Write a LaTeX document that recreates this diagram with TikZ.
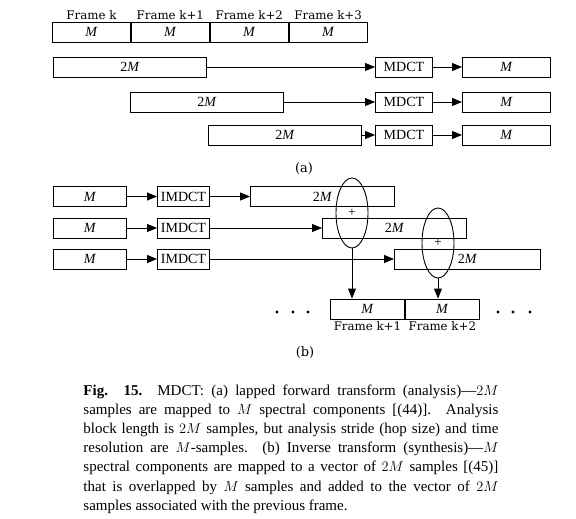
\documentclass[tikz,border=0pt]{standalone}
\usepackage{fontspec}
\setmainfont{Liberation Serif}
\newfontfamily\framefont{DejaVu Serif}
\usetikzlibrary{arrows.meta, shapes.geometric, calc}

\begin{document}
\begin{tikzpicture}[x=1pt, y=-1pt, line width=0.9pt,
	box/.style={draw, minimum height=20, inner sep=0, anchor=west, font=\fontsize{14}{14}\selectfont},
	sum/.style={draw, ellipse, minimum width=32, minimum height=70, inner sep=0, font=\fontsize{13}{13}\selectfont},
	arr/.style={-{Triangle[length=10pt, width=8pt]}},
	frm/.style={font=\framefont\fontsize{11.8}{12}\selectfont, inner sep=1.5pt},
	lbl/.style={font=\framefont\fontsize{13}{13}\selectfont}]
	\useasboundingbox (0,0) rectangle (576,519);
	\node[box, minimum width=78] (fa) at (52,32) {\textit{M}};
	\node[box, minimum width=78] (fb) at (fa.east) {\textit{M}};
	\node[box, minimum width=78] (fc) at (fb.east) {\textit{M}};
	\node[box, minimum width=78] (fd) at (fc.east) {\textit{M}};
	\node at (fa.north) [above, frm] {Frame k};
	\node at (fb.north) [above, frm] {Frame k+1};
	\node at (fc.north) [above, frm] {Frame k+2};
	\node at (fd.north) [above, frm] {Frame k+3};

	\node[box, minimum width=153] (wa) at (53,67) {2\textit{M}};
	\node[box, minimum width=153] (wb) at (130,102) {2\textit{M}};
	\node[box, minimum width=153] (wc) at (208,135) {2\textit{M}};
	\node[box, minimum width=57] (ma) at (375,67) {MDCT};
	\node[box, minimum width=57] (mb) at (375,102) {MDCT};
	\node[box, minimum width=57] (mc) at (375,135) {MDCT};
	\node[box, minimum width=88] (ca) at (462,67) {\textit{M}};
	\node[box, minimum width=88] (cb) at (462,102) {\textit{M}};
	\node[box, minimum width=88] (cc) at (462,135) {\textit{M}};
	\draw[arr] (wa) -- (ma);
	\draw[arr] (wb) -- (mb);
	\draw[arr] (wc) -- (mc);
	\draw[arr] (ma) -- (ca);
	\draw[arr] (mb) -- (cb);
	\draw[arr] (mc) -- (cc);
	\node[lbl] (capa) at (304,169) {(a)};

	\node[box, minimum width=73] (ia) at (53,196.5) {\textit{M}};
	\node[box, minimum width=73] (ib) at (53,228) {\textit{M}};
	\node[box, minimum width=73] (ic) at (53,259) {\textit{M}};
	\node[box, minimum width=52] (ta) at (157,196.5) {IMDCT};
	\node[box, minimum width=52] (tb) at (157,228) {IMDCT};
	\node[box, minimum width=52] (tc) at (157,259) {IMDCT};
	\node[box, minimum width=144] (va) at (250,196.5) {2\textit{M}};
	\node[box, minimum width=144] (vb) at (322,228) {2\textit{M}};
	\node[box, minimum width=146] (vc) at (394,259) {2\textit{M}};
	\draw[arr] (ia) -- (ta);
	\draw[arr] (ib) -- (tb);
	\draw[arr] (ic) -- (tc);
	\draw[arr] (ta) -- (va);
	\draw[arr] (tb) -- (vb);
	\draw[arr] (tc) -- (vc);
	\node[sum] (sa) at (352,213) {+};
	\node[sum] (sb) at (438,243) {+};

	\node[box, minimum width=74] (ob) at (330,309) {\textit{M}};
	\node[box, minimum width=74] (oc) at (ob.east) {\textit{M}};
	\draw[arr] (sa.south) -- (sa.south |- ob.north);
	\draw[arr] (sb.south) -- (sb.south |- oc.north);
	\node at (ob.south) [below, frm] {Frame k+1};
	\node at (oc.south) [below, frm] {Frame k+2};
	\foreach \x in {277,293,308,498,513,530}
		\fill (\x,312) circle (1.6);
	\node[lbl] (capb) at (305,353) {(b)};

	\node[anchor=north west, text width=415, align=justify, inner sep=0,
		font=\fontsize{15}{19.2}\selectfont] (cap) at (83,384) {%
		\textbf{Fig. 15.}\quad MDCT: (a) lapped forward transform (analysis)---\nobreak$2M$\linebreak
		samples are mapped to $M$ spectral components [(44)]. Analysis\linebreak
		block length is $2M$ samples, but analysis stride (hop size) and time\linebreak
		resolution are $M$-samples. (b) Inverse transform (synthesis)---\nobreak$M$\linebreak
		spectral components are mapped to a vector of $2M$ samples [(45)]\linebreak
		that is overlapped by $M$ samples and added to the vector of $2M$\linebreak
		samples associated with the previous frame.};
\end{tikzpicture}
\end{document}
